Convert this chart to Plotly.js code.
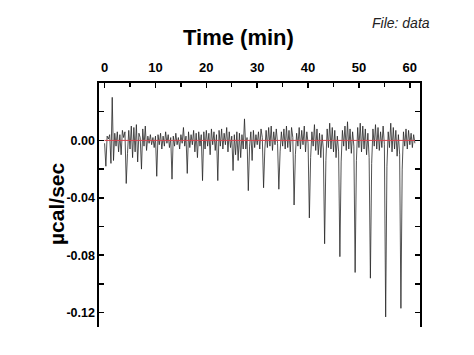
<!DOCTYPE html>
<html>
<head>
<meta charset="utf-8">
<script src="https://cdn.plot.ly/plotly-3.0.1.min.js"></script>
<style>html,body{margin:0;padding:0;background:#fff;}#chart{width:474px;height:355px;}</style>
</head>
<body>
<div id="chart"></div>
<script>
// Sampling interval (min) of the recorded thermogram
const sampleStep = 0.25;
const startTime = 0;
// Heat rate signal (µcal/sec), one value per sample
const signal = [
 -0.002,-0.018,0.003,0.001,0.004,-0.016,0.030,-0.014,0.005,-0.004,0.006,-0.008,0.004,-0.010,0.007,0.002,
 0.006,-0.030,-0.009,0.007,-0.006,0.010,-0.012,0.009,-0.008,0.011,-0.015,0.005,
 0.002,-0.020,0.008,-0.004,0.010,-0.007,0.003,-0.002,0.004,-0.003,0.002,-0.005,
 0.003,-0.025,0.004,-0.003,0.005,-0.006,0.003,-0.004,0.006,-0.002,0.004,-0.005,
 0.002,-0.027,0.003,-0.004,0.005,-0.003,0.002,-0.006,0.004,-0.002,0.009,-0.004,
 0.003,-0.023,0.006,-0.005,0.004,-0.003,0.007,-0.008,0.005,-0.012,0.006,-0.004,
 0.004,-0.028,0.006,-0.006,0.007,-0.004,0.005,-0.010,0.008,-0.003,0.006,-0.007,
 0.004,-0.028,0.007,-0.004,0.008,-0.006,0.005,-0.003,0.009,-0.008,0.006,-0.005,
 0.003,-0.021,0.004,-0.010,0.006,-0.014,0.005,-0.012,0.004,-0.006,0.015,-0.006,
 0.002,-0.035,-0.004,0.006,-0.014,0.007,-0.005,0.004,-0.003,0.006,-0.006,0.008,
 0.002,-0.033,-0.006,0.007,-0.005,0.009,-0.004,0.010,-0.007,0.006,-0.003,0.008,
 -0.002,-0.034,-0.008,0.006,-0.004,0.008,-0.006,0.010,-0.005,0.007,-0.008,0.009,
 0.002,-0.045,-0.010,0.005,-0.004,0.009,-0.006,0.007,-0.003,0.010,-0.008,0.006,
 -0.002,-0.054,-0.012,0.006,-0.004,0.011,-0.007,0.008,-0.010,0.005,-0.012,0.004,
 -0.006,-0.072,-0.014,0.008,-0.005,0.012,-0.006,0.009,-0.008,0.007,-0.012,0.003,
 -0.008,-0.081,-0.015,0.007,-0.004,0.010,-0.007,0.013,-0.006,0.008,-0.009,0.006,
 -0.004,-0.092,-0.014,0.009,-0.005,0.012,-0.008,0.010,-0.006,0.008,-0.010,0.005,
 -0.012,-0.096,-0.016,0.008,-0.004,0.011,-0.006,0.009,-0.007,0.006,-0.005,0.010,
 -0.003,-0.123,-0.018,0.006,-0.005,0.012,-0.008,0.009,-0.006,0.007,-0.011,0.004,
 -0.010,-0.117,-0.020,0.006,-0.004,0.008,-0.006,0.007,-0.003,0.005,-0.005,0.004,
 -0.002
];
// Baseline
const baseTime = [0, 61];
const baseValue = [0, 0];
// Axis ticks
const xTicks = [0, 10, 20, 30, 40, 50, 60];
const yTickVals = [0, -0.04, -0.08, -0.12];
const yTickText = ["0.00", "-0.04", "-0.08", "-0.12"];

const time = signal.map((_, i) => startTime + i * sampleStep);
const FONT = "Liberation Sans, Arial, sans-serif";
const L = 99, T = 83, PW = 321, PH = 244;

const traces = [
  {x: time, y: signal, type: "scatter", mode: "lines",
   line: {color: "#262626", width: 0.8}, hoverinfo: "skip"},
  {x: baseTime, y: baseValue, type: "scatter", mode: "lines",
   line: {color: "#d8404a", width: 1}, hoverinfo: "skip"}
];

const layout = {
  width: 474, height: 355,
  margin: {l: L, r: 54, t: T, b: 28, pad: 0},
  paper_bgcolor: "#fff", plot_bgcolor: "#fff",
  showlegend: false,
  font: {family: FONT, color: "#000"},
  xaxis: {
    side: "top", range: [-1.1, 62], showgrid: false, zeroline: false,
    showline: true, linecolor: "#000", linewidth: 1.6, mirror: false,
    ticks: "inside", ticklen: 5, tickwidth: 1.6, tickcolor: "#000",
    ticklabelstandoff: 4,
    tickvals: xTicks, ticktext: xTicks.map(String),
    tickfont: {family: FONT, size: 13, weight: "bold", color: "#000"},
    minor: {dtick: 5, tick0: 0, ticks: "inside", ticklen: 4, tickwidth: 1.3, tickcolor: "#000", showgrid: false}
  },
  yaxis: {
    range: [-0.13, 0.04], showgrid: false, zeroline: false,
    showline: true, linecolor: "#000", linewidth: 1.6, mirror: "ticks",
    ticks: "inside", ticklen: 5, tickwidth: 1.6, tickcolor: "#000",
    tickvals: yTickVals, ticktext: yTickText,
    tickfont: {family: FONT, size: 12.5, weight: "bold", color: "#000"},
    minor: {dtick: 0.02, tick0: 0, ticks: "inside", ticklen: 5, tickwidth: 1.3, tickcolor: "#000", showgrid: false}
  },
  annotations: [
    {text: "Time (min)", xref: "paper", yref: "paper", x: (238 - L) / PW, y: 1 + (T - 37) / PH,
     xanchor: "center", yanchor: "middle", showarrow: false,
     font: {family: FONT, size: 22, weight: "bold", color: "#000"}},
    {text: "µcal/sec", xref: "paper", yref: "paper", x: (56 - L) / PW, y: 1 - (204 - T) / PH,
     xanchor: "center", yanchor: "middle", showarrow: false, textangle: -90,
     font: {family: FONT, size: 21, weight: "bold", color: "#000"}},
    {text: "File: data", xref: "paper", yref: "paper", x: (370 - L) / PW, y: 1 + (T - 23) / PH,
     xanchor: "left", yanchor: "middle", showarrow: false,
     font: {family: FONT, size: 14, style: "italic", color: "#222"}}
  ]
};

Plotly.newPlot("chart", traces, layout, {displayModeBar: false, staticPlot: true});
</script>
</body>
</html>
